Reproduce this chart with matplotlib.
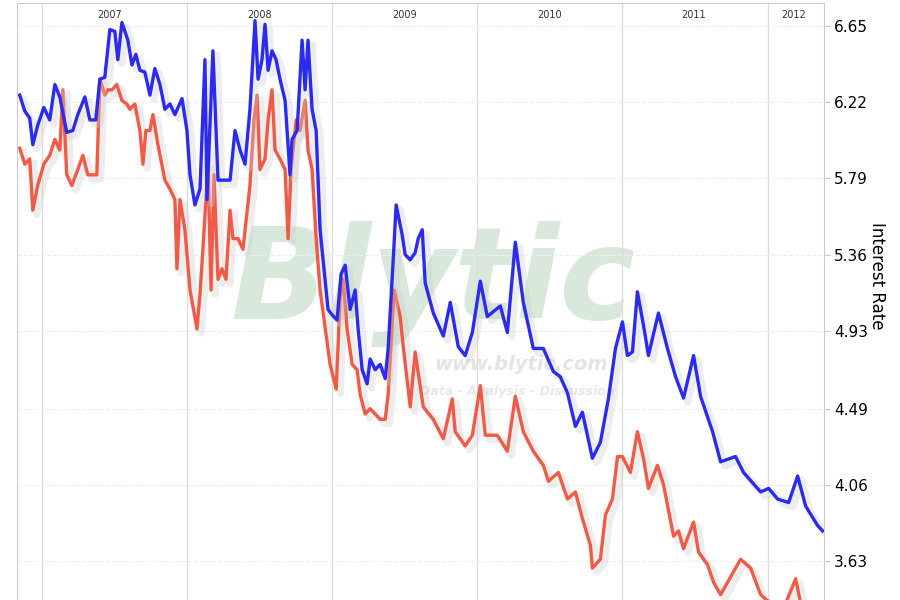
import matplotlib
matplotlib.use("Agg")
import matplotlib.pyplot as plt
import matplotlib.patheffects as pe

blue_t = [2006.848,2006.883,2006.917,2006.938,2006.972,2007.014,2007.055,2007.090,2007.124,2007.172,2007.214,2007.248,2007.297,2007.331,2007.372,2007.400,2007.434,2007.469,2007.503,2007.524,2007.552,2007.593,2007.621,2007.648,2007.676,2007.710,2007.745,2007.779,2007.814,2007.848,2007.883,2007.917,2007.966,2008.000,2008.021,2008.055,2008.090,2008.124,2008.138,2008.179,2008.214,2008.262,2008.297,2008.331,2008.366,2008.400,2008.434,2008.469,2008.490,2008.517,2008.538,2008.559,2008.586,2008.614,2008.641,2008.676,2008.710,2008.724,2008.759,2008.793,2008.814,2008.834,2008.862,2008.890,2008.917,2008.938,2008.972,2009.000,2009.034,2009.062,2009.090,2009.124,2009.159,2009.179,2009.207,2009.241,2009.262,2009.297,2009.331,2009.366,2009.386,2009.421,2009.441,2009.483,2009.503,2009.538,2009.572,2009.593,2009.621,2009.641,2009.697,2009.766,2009.814,2009.869,2009.917,2009.966,2010.021,2010.069,2010.159,2010.207,2010.262,2010.317,2010.386,2010.455,2010.524,2010.572,2010.621,2010.676,2010.724,2010.793,2010.848,2010.903,2010.952,2011.000,2011.034,2011.069,2011.103,2011.145,2011.179,2011.248,2011.310,2011.366,2011.421,2011.490,2011.538,2011.621,2011.676,2011.779,2011.834,2011.952,2012.007,2012.069,2012.145,2012.207,2012.262,2012.345,2012.379]
blue_v = [6.26,6.17,6.13,5.98,6.09,6.19,6.12,6.32,6.25,6.05,6.06,6.15,6.25,6.12,6.12,6.35,6.36,6.63,6.62,6.46,6.67,6.57,6.43,6.49,6.40,6.39,6.26,6.41,6.32,6.18,6.21,6.15,6.24,6.06,5.81,5.64,5.73,6.46,5.67,6.51,5.78,5.78,5.78,6.06,5.95,5.87,6.18,6.68,6.35,6.46,6.66,6.40,6.51,6.46,6.35,6.23,5.81,6.01,6.06,6.57,6.29,6.57,6.18,6.06,5.50,5.33,5.05,5.02,4.99,5.25,5.30,5.05,5.16,4.94,4.71,4.63,4.77,4.71,4.74,4.66,4.83,5.33,5.64,5.47,5.36,5.33,5.37,5.45,5.50,5.20,5.03,4.90,5.09,4.84,4.79,4.92,5.21,5.01,5.07,4.92,5.43,5.09,4.83,4.83,4.70,4.67,4.58,4.39,4.47,4.21,4.30,4.545,4.83,4.98,4.79,4.81,5.15,4.96,4.79,5.03,4.83,4.67,4.55,4.79,4.56,4.36,4.19,4.22,4.13,4.02,4.04,3.98,3.96,4.11,3.94,3.83,3.80]

red_t = [2006.848,2006.883,2006.917,2006.938,2006.972,2007.014,2007.055,2007.090,2007.124,2007.145,2007.172,2007.207,2007.248,2007.283,2007.317,2007.352,2007.379,2007.400,2007.434,2007.455,2007.483,2007.517,2007.552,2007.586,2007.607,2007.641,2007.676,2007.697,2007.717,2007.745,2007.766,2007.800,2007.848,2007.883,2007.917,2007.931,2007.952,2007.986,2008.021,2008.069,2008.090,2008.110,2008.145,2008.166,2008.186,2008.214,2008.241,2008.269,2008.297,2008.317,2008.352,2008.386,2008.434,2008.462,2008.483,2008.503,2008.538,2008.559,2008.586,2008.607,2008.641,2008.676,2008.697,2008.717,2008.752,2008.779,2008.814,2008.834,2008.862,2008.890,2008.917,2008.945,2008.986,2009.028,2009.055,2009.076,2009.103,2009.138,2009.172,2009.193,2009.228,2009.262,2009.297,2009.331,2009.366,2009.386,2009.428,2009.469,2009.490,2009.538,2009.572,2009.628,2009.697,2009.766,2009.828,2009.848,2009.917,2009.966,2010.021,2010.055,2010.138,2010.207,2010.262,2010.317,2010.386,2010.455,2010.490,2010.559,2010.621,2010.676,2010.724,2010.779,2010.793,2010.848,2010.883,2010.931,2010.966,2011.000,2011.055,2011.103,2011.145,2011.179,2011.241,2011.283,2011.352,2011.386,2011.421,2011.490,2011.524,2011.586,2011.628,2011.676,2011.766,2011.814,2011.883,2011.952,2012.021,2012.124,2012.193,2012.228]
red_v = [5.96,5.87,5.90,5.61,5.75,5.87,5.92,6.01,5.95,6.29,5.81,5.75,5.84,5.92,5.81,5.81,5.81,6.35,6.26,6.29,6.29,6.32,6.23,6.21,6.18,6.21,6.06,5.87,6.06,6.06,6.15,5.98,5.78,5.73,5.67,5.28,5.67,5.50,5.16,4.94,5.14,5.39,5.87,5.16,5.81,5.22,5.28,5.22,5.61,5.45,5.45,5.39,5.75,6.12,6.26,5.84,5.90,6.12,6.29,5.95,5.90,5.84,5.45,5.84,6.12,6.06,6.23,5.95,5.84,5.45,5.16,4.99,4.74,4.60,5.11,5.22,4.94,4.74,4.71,4.57,4.46,4.49,4.46,4.43,4.43,4.57,5.16,5.01,4.84,4.50,4.81,4.50,4.43,4.32,4.545,4.36,4.28,4.34,4.62,4.34,4.34,4.25,4.56,4.36,4.25,4.17,4.08,4.13,3.98,4.02,3.87,3.72,3.59,3.64,3.89,3.98,4.22,4.22,4.13,4.36,4.21,4.04,4.17,4.06,3.77,3.80,3.70,3.85,3.68,3.61,3.51,3.44,3.57,3.64,3.59,3.44,3.39,3.39,3.53,3.39]

y_ticks = [6.65, 6.22, 5.79, 5.36, 4.93, 4.49, 4.06, 3.63]
years = [2007, 2008, 2009, 2010, 2011, 2012]
year_label_pos = [2007.47, 2008.5, 2009.5, 2010.5, 2011.49, 2012.18]

fig = plt.figure(figsize=(9, 6), dpi=100)
ax = fig.add_axes([0.019, 0.0, 0.896, 0.995])
ax.set_xlim(2006.83, 2012.385)
ax.set_ylim(3.41, 6.78)

# watermark
ax.text(0.515, 0.53, "Blytic", transform=ax.transAxes, fontsize=92, fontweight="bold",
        style="italic", color="#d8e8da", ha="center", va="center", zorder=0)
ax.text(0.625, 0.395, "www.blytic.com", transform=ax.transAxes, fontsize=14, fontweight="bold",
        style="italic", color="#e4e4e4", ha="center", va="center", zorder=0)
ax.text(0.62, 0.35, "Data - Analysis - Discussion", transform=ax.transAxes, fontsize=9,
        fontweight="bold", style="italic", color="#e8e8e8", ha="center", va="center", zorder=0)

shadow = [pe.SimpleLineShadow(offset=(3, -3), shadow_color="#cccccc", alpha=0.35, linewidth=5), pe.Normal()]
ax.plot(red_t, red_v, color="#f05a46", lw=2.4, zorder=3, path_effects=shadow)
ax.plot(blue_t, blue_v, color="#2b2bf0", lw=2.4, zorder=4, path_effects=shadow)

for y in years:
    ax.axvline(y, color="#dddddd", lw=1, zorder=1)
for y, p in zip(years, year_label_pos):
    ax.text(p, 6.71, str(y), fontsize=7, color="#333333", ha="center", va="center")
for v in y_ticks:
    ax.axhline(v, color="#eeeeee", lw=0.8, ls="--", zorder=1)

ax.set_xticks([])
ax.yaxis.tick_right()
ax.set_yticks(y_ticks)
ax.set_yticklabels([f"{v:.2f}" for v in y_ticks], fontsize=11)
ax.tick_params(axis="y", length=4, color="#cccccc")
for s in ax.spines.values():
    s.set_color("#cccccc")
ax.spines["bottom"].set_visible(False)
fig.text(0.975, 0.54, "Interest Rate", rotation=-90, fontsize=12, ha="center", va="center")
fig.savefig("out.png", dpi=100)
